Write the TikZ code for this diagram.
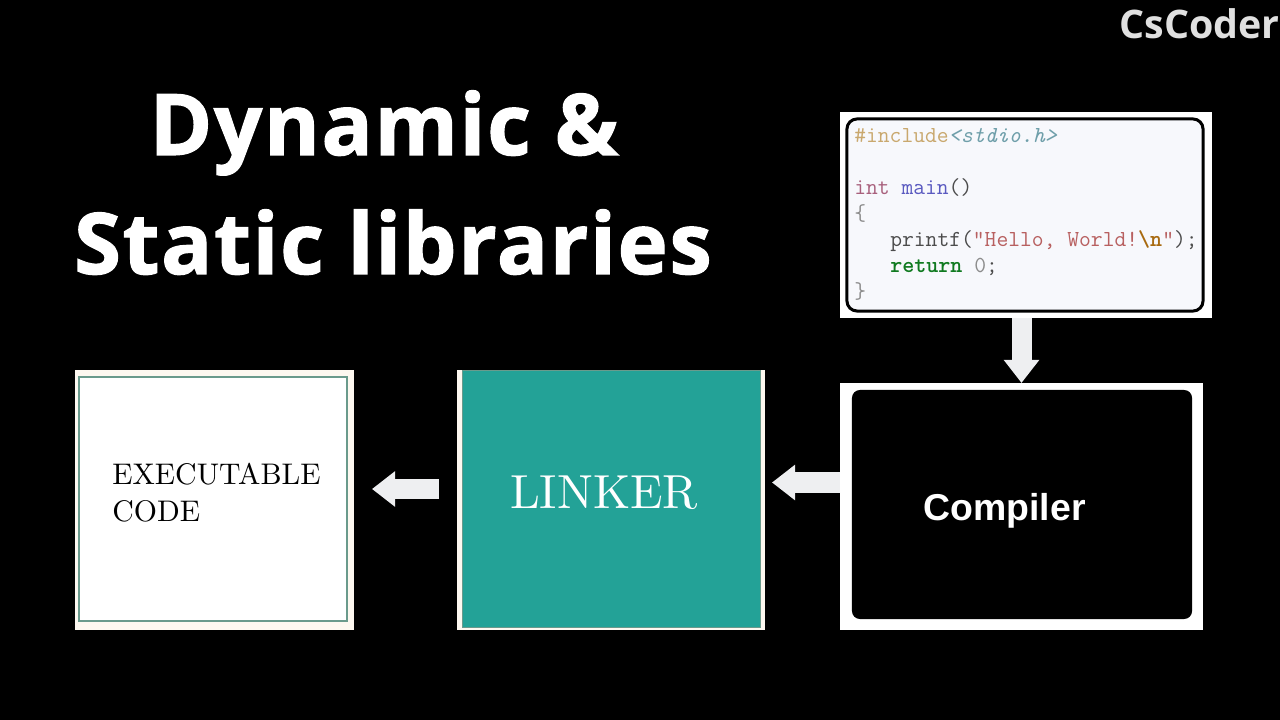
\documentclass[tikz,border=0pt]{standalone}
\usepackage{fontspec}
\usepackage{tikz}
\usetikzlibrary{arrows.meta}
\newfontfamily\opensans{Open Sans}[BoldFeatures={FakeBold=1.3,LetterSpace=1.9}]
\newfontfamily\brandfont{Open Sans}
\newfontfamily\labelfont{Liberation Sans}
\newfontfamily\romanfont{lmroman10-regular}[Extension=.otf]
\definecolor{arrowgrey}{HTML}{EEEFF1}
\definecolor{cream}{HTML}{FDF8F0}
\definecolor{framegreen}{HTML}{6A9A8C}
\definecolor{linkerteal}{HTML}{23A297}
\definecolor{codeback}{HTML}{F7F8FC}
\definecolor{hashtan}{HTML}{C9A86E}
\definecolor{headerblue}{HTML}{6F9FAA}
\definecolor{typerose}{HTML}{A8607C}
\definecolor{mainblue}{HTML}{5A5AC0}
\definecolor{stringred}{HTML}{B86060}
\definecolor{escapebrown}{HTML}{A86A10}
\definecolor{keygreen}{HTML}{107A20}
\tikzset{
  box/.style={inner sep=0pt, outer sep=0pt},
  title/.style={anchor=base, inner sep=0pt, white, font=\opensans\bfseries\fontsize{60.5}{72}\selectfont},
  codeline/.style={anchor=base west, inner sep=0pt, text=black!70, font=\ttfamily\fontsize{16.3}{18}\selectfont},
  flow/.style={arrowgrey, line width=0.5cm, -{Triangle[length=0.575cm,width=0.85cm]}}
}
\begin{document}
\begin{tikzpicture}[x=0.025cm, y=-0.025cm]
  \fill[black] (0,0) rectangle (1280,720);
  \useasboundingbox (0,0) rectangle (1280,720);
  % heading
  \node [title] (dynamic) at (384,155) {Dynamic \&};
  \node [title] (static) at (393,274) {Static libraries};
  \node [anchor=base east, inner sep=0pt, text=black!12, font=\brandfont\bfseries\fontsize{28}{32}\selectfont] (brand) at (1280,39) {CsCoder};
  % source code
  \node [box, fill=white, minimum width=9.3cm, minimum height=5.15cm] (code) at (1026,215) {};
  \node [box, draw=black, line width=0.075cm, fill=codeback, rounded corners=0.25cm, minimum width=8.9cm, minimum height=4.8cm] (codeframe) at (1025,215) {};
  \node [codeline] (line1) at (854,143) {\textcolor{hashtan}{\#include}\textcolor{headerblue}{\itshape<stdio.h>}};
  \node [codeline] (line2) at (854,195) {\textcolor{typerose}{int} \textcolor{mainblue}{main}()};
  \node [codeline, text=black!45] (line3) at (854,221) {\{};
  \node [codeline] (line4) at (890,247) {printf(\textcolor{stringred}{"Hello, World!}\textcolor{escapebrown}{\bfseries\textbackslash n}\textcolor{stringred}{"});};
  \node [codeline] (line5) at (890,273) {\textcolor{keygreen}{\bfseries return} \textcolor{black!45}{0};};
  \node [codeline, text=black!45] (line6) at (854,299) {\}};
  % compiler
  \node [box, fill=white, minimum width=9.075cm, minimum height=6.175cm] (compiler) at (1021.5,506.5) {};
  \node [box, fill=black, rounded corners=0.2cm, minimum width=8.5cm, minimum height=5.725cm] (compilerframe) at (1022,504.5) {};
  \node [anchor=base, inner sep=0pt, white, font=\labelfont\bfseries\fontsize{26.6}{30}\selectfont] (compilertext) at (1004.5,520) {Compiler};
  % linker
  \node [box, fill=cream, minimum width=7.7cm, minimum height=6.5cm] (linker) at (611,500) {};
  \node [box, fill=linkerteal, draw=framegreen, line width=0.02cm, minimum width=7.45cm, minimum height=6.425cm] (linkerframe) at (611.5,498.5) {};
  \node [anchor=base, inner sep=0pt, white, font=\romanfont\fontsize{34}{40}\selectfont] (linkertext) at (604,508) {LINKER};
  % executable
  \node [box, fill=cream, minimum width=6.975cm, minimum height=6.5cm] (exec) at (214.5,500) {};
  \node [box, fill=white, draw=framegreen, line width=0.04cm, minimum width=6.7cm, minimum height=6.1cm] (execframe) at (213,499) {};
  \node [anchor=base west, inner sep=0pt, align=left, black, font=\romanfont\fontsize{21.2}{26}\selectfont] (exectext) at (112,521) {EXECUTABLE\\CODE};
  % arrows
  \coordinate (compilerout) at (840,482.5);
  \coordinate (linkerin) at (772,482.5);
  \coordinate (linkerout) at (439,489);
  \coordinate (execin) at (372,489);
  \draw [flow] (code.south -| compiler.north) -- (compiler.north);
  \draw [flow] (compilerout) -- (linkerin);
  \draw [flow] (linkerout) -- (execin);
\end{tikzpicture}
\end{document}
